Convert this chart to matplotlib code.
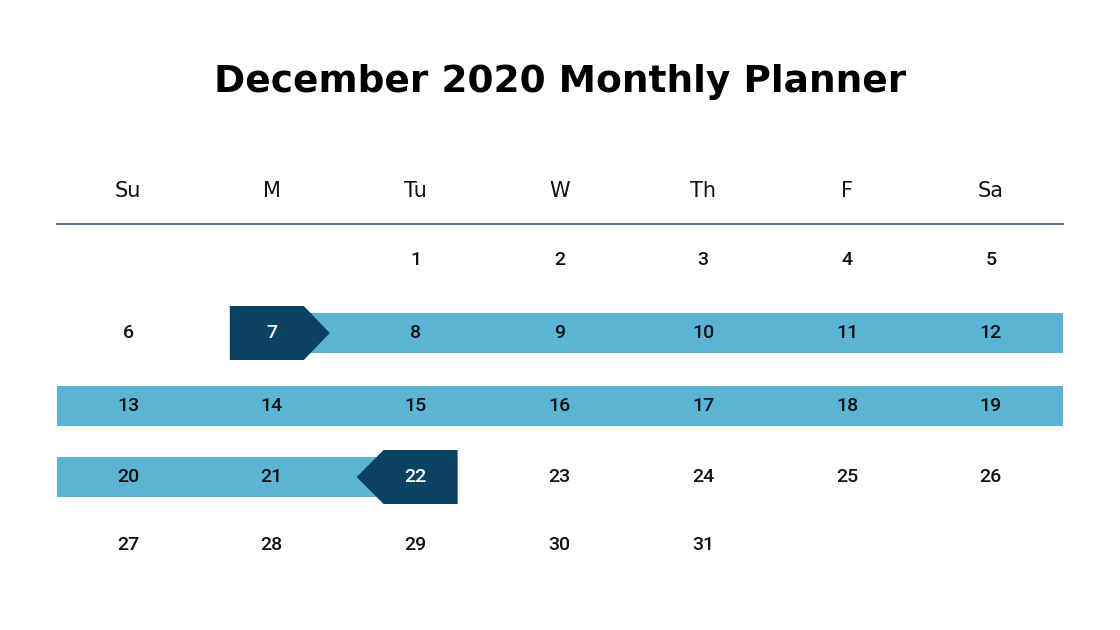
import matplotlib
matplotlib.use("Agg")
import matplotlib.pyplot as plt
from matplotlib.patches import Rectangle, Polygon
from matplotlib import font_manager

title = "December 2020 Monthly Planner"
weekdays = ["Su", "M", "Tu", "W", "Th", "F", "Sa"]
first_weekday = 2  # Dec 1 is Tuesday
n_days = 31
range_start = 7
range_end = 22

LIGHT = "#5BB4D3"
DARK = "#0B4263"

names = {f.name for f in font_manager.fontManager.ttflist}
cond = [n for n in ["Liberation Sans Narrow", "DejaVu Sans Condensed"] if n in names]
cond_fam = cond[:1] + ["DejaVu Sans"]
title_size = 30 if cond and cond[0] == "Liberation Sans Narrow" else 27

fig = plt.figure(figsize=(11.2, 6.3), dpi=100)
ax = fig.add_axes([0, 0, 1, 1])
x0, dx = 128, 143.8
row_y = [260, 333, 406, 477, 545]
ax.set_xlim(0, 1120)
ax.set_ylim(630, 0)
ax.axis("off")

def cx(c): return x0 + c * dx

ax.text(560, 82, title, ha="center", va="center", fontsize=title_size,
        fontweight="bold", family=cond_fam)
for i, d in enumerate(weekdays):
    ax.text(cx(i), 191, d, ha="center", va="center", fontsize=15,
            family=cond_fam, color="#111")
ax.plot([57, 1063], [224, 224], color="#2E5A78", lw=1.2)

left_edge, right_edge = 57, 1063
bh, dh, bw = 20, 27, 37
pos = {}
for d in range(1, n_days + 1):
    k = first_weekday + d - 1
    pos[d] = (k % 7, k // 7)

sc, sr = pos[range_start]
ec, er = pos[range_end]
for r in range(sr, er + 1):
    xa = cx(sc) if r == sr else left_edge
    xb = cx(ec) if r == er else right_edge
    ax.add_patch(Rectangle((xa, row_y[r] - bh), xb - xa, 2 * bh, color=LIGHT, lw=0))
x, y = cx(sc), row_y[sr]
ax.add_patch(Polygon([(x - bw - 5, y - dh), (x + 32, y - dh), (x + 58, y),
                      (x + 32, y + dh), (x - bw - 5, y + dh)], color=DARK, lw=0))
x, y = cx(ec), row_y[er]
ax.add_patch(Polygon([(x + 42, y - dh), (x - 32, y - dh), (x - 59, y),
                      (x - 32, y + dh), (x + 42, y + dh)], color=DARK, lw=0))

for d, (c, r) in pos.items():
    col = "white" if d in (range_start, range_end) else "#111"
    ax.text(cx(c), row_y[r], str(d), ha="center", va="center", fontsize=14,
            family="Roboto", fontweight="medium", color=col)

fig.savefig("out.png", facecolor="white")
